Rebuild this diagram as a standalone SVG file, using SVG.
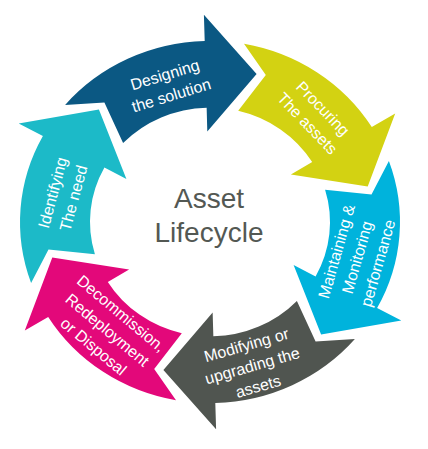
<svg xmlns="http://www.w3.org/2000/svg" width="428" height="449" viewBox="0 0 428 449">
<style>
.lbl{font-family:"Liberation Sans",Arial,sans-serif;font-size:16px;fill:#ffffff;text-anchor:middle}
.ctr{font-family:"Liberation Sans",Arial,sans-serif;font-size:28px;fill:#535853;text-anchor:middle}
</style>
<rect width="428" height="449" fill="#ffffff"/>
<g id="node-designing">
<path fill="#0B5883" d="M65.1,104.9 A190,181.07 0 0 1 204.7,41.0 L203.9,14.8 L256.6,74.1 L207.3,131.5 L206.65,107.7 A120,114.36 0 0 0 123.1,143.1 L104.4,102.5 Z"/>
<g transform="translate(168,84.8) rotate(-17)"><text class="lbl"><tspan x="0" y="-5">Designing</tspan><tspan x="0" y="16.5">the solution</tspan></text></g>
</g>
<g id="node-procuring">
<path fill="#D3D212" d="M244.0,43.8 A190,181.07 0 0 1 371.8,127.1 L395.2,113.4 L367.7,186.5 L290.9,174.6 L312.2,162.1 A120,114.36 0 0 0 238.2,110.8 L265.8,75.0 Z"/>
<g transform="translate(315.3,115.8) rotate(46)"><text class="lbl"><tspan x="0" y="-5">Procuring</tspan><tspan x="0" y="16.5">The assets</tspan></text></g>
</g>
<g id="node-maintaining">
<path fill="#00B3DC" d="M388.9,161.0 A190,181.07 0 0 1 377.1,308.1 L401.3,320.6 L321.1,334.4 L293.6,265.1 L315.6,276.4 A120,114.36 0 0 0 325.1,189.7 L371.5,194.6 Z"/>
<g transform="translate(357,257.2) rotate(-74)"><text class="lbl"><tspan x="0" y="-15.8">Maintaining &amp;</tspan><tspan x="0" y="5.7">Monitoring</tspan><tspan x="0" y="27.2">performance</tspan></text></g>
</g>
<g id="node-modifying">
<path fill="#505550" d="M354.9,339.1 A190,181.07 0 0 1 215.3,403.0 L216.1,429.2 L163.4,369.9 L212.65,312.5 L213.35,336.3 A120,114.36 0 0 0 296.9,300.9 L315.6,341.5 Z"/>
<g transform="translate(252.3,365.5) rotate(-16)"><text class="lbl"><tspan x="0" y="-15.8">Modifying or</tspan><tspan x="0" y="5.7">upgrading the</tspan><tspan x="0" y="27.2">assets</tspan></text></g>
</g>
<g id="node-decommission">
<path fill="#E3087A" d="M176.0,400.2 A190,181.07 0 0 1 48.2,316.9 L24.8,330.6 L52.3,257.5 L129.1,269.4 L107.8,281.9 A120,114.36 0 0 0 181.8,333.2 L154.2,369.0 Z"/>
<g transform="translate(107.5,329.8) rotate(40)"><text class="lbl"><tspan x="0" y="-15.8">Decommission,</tspan><tspan x="0" y="5.7">Redeployment</tspan><tspan x="0" y="27.2">or Disposal</tspan></text></g>
</g>
<g id="node-identifying">
<path fill="#1CBAC8" d="M31.1,283.0 A190,181.07 0 0 1 42.9,135.9 L18.7,123.4 L98.9,109.6 L126.4,178.9 L104.4,167.6 A120,114.36 0 0 0 94.9,254.3 L48.5,249.4 Z"/>
<g transform="translate(62.8,195.3) rotate(-75)"><text class="lbl"><tspan x="0" y="-5">Identifying</tspan><tspan x="0" y="16.5">The need</tspan></text></g>
</g>
<g id="connectors"/>
<g id="center-title">
<text class="ctr" x="209" y="208">Asset</text>
<text class="ctr" x="209" y="242">Lifecycle</text>
</g>
</svg>
